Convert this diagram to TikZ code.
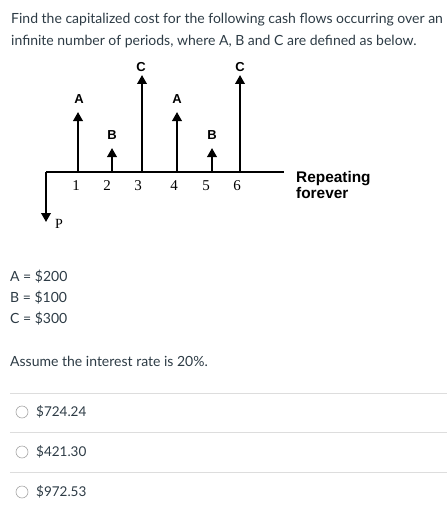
\documentclass[tikz,border=0pt]{standalone}
\usepackage{fontspec}
\usepackage{tikz}
\usetikzlibrary{arrows.meta}
\setmainfont{Lato}
\newfontfamily\arialfont{Liberation Sans}
\newfontfamily\timesfont{Liberation Serif}
\definecolor{textgray}{RGB}{45,59,69}
\definecolor{rulegray}{RGB}{221,221,221}

\tikzset{
  cashflow/.style={line width=2pt, -{Triangle[width=9.5pt,length=9pt]}},
  flowlabel/.style={font=\arialfont\bfseries\fontsize{13}{13}\selectfont, inner sep=0pt},
  periodnum/.style={font=\timesfont\fontsize{15}{15}\selectfont, inner sep=0pt},
  bodytext/.style={font=\fontsize{14}{14}\selectfont, text=textgray, anchor=west, inner sep=0pt},
  answer/.style={font=\fontsize{13.5}{13.5}\selectfont, text=textgray, anchor=west, inner sep=0pt},
  radio/.style={circle, draw=gray!70, line width=0.6pt, minimum size=12pt, inner sep=0pt},
}

\begin{document}
\begin{tikzpicture}[x=1pt,y=-1pt]
  \useasboundingbox (0,0) rectangle (447,508);

  % Question text
  \node[bodytext] (q1) at (11,20) {Find the capitalized cost for the following cash flows occurring over an};
  \node[bodytext] (q2) at (11,42) {infinite number of periods, where A, B and C are defined as below.};

  % Time axis
  \coordinate (t0) at (46,172);
  \coordinate (tend) at (284,172);
  \draw[line width=1.3pt] (t0) -- (tend);
  \coordinate (pend) at (46,222);
  \draw[cashflow] (t0) -- (pend);
  \node[periodnum, font=\timesfont\fontsize{14}{14}\selectfont] (p) at (59,224) {P};

  % Cash flow arrows
  \coordinate (t1) at (78,172);
  \coordinate (t2) at (112,172);
  \coordinate (t3) at (142,172);
  \coordinate (t4) at (177,172);
  \coordinate (t5) at (212,172);
  \coordinate (t6) at (240,172);
  \coordinate (f1) at (78,112);
  \coordinate (f2) at (112,148);
  \coordinate (f3) at (142,75);
  \coordinate (f4) at (177,112);
  \coordinate (f5) at (212,148);
  \coordinate (f6) at (240,75);
  \draw[cashflow] (t1) -- (f1);
  \draw[cashflow] (t2) -- (f2);
  \draw[cashflow] (t3) -- (f3);
  \draw[cashflow] (t4) -- (f4);
  \draw[cashflow] (t5) -- (f5);
  \draw[cashflow] (t6) -- (f6);

  % Flow labels
  \node[flowlabel] (l1) at (79,99) {A};
  \node[flowlabel] (l2) at (112,135) {B};
  \node[flowlabel] (l3) at (141,67) {C};
  \node[flowlabel] (l4) at (177,99) {A};
  \node[flowlabel] (l5) at (212,135) {B};
  \node[flowlabel] (l6) at (240,67) {C};

  % Period numbers
  \node[periodnum] (n1) at (76,186) {1};
  \node[periodnum] (n2) at (107,186) {2};
  \node[periodnum] (n3) at (138,186) {3};
  \node[periodnum] (n4) at (174,186) {4};
  \node[periodnum] (n5) at (206,186) {5};
  \node[periodnum] (n6) at (237,186) {6};

  % Repeating note
  \node[font=\arialfont\bfseries\fontsize{15.4}{16.5}\selectfont, anchor=west, inner sep=0pt, align=left] (rep) at (296,185) {Repeating\\forever};

  % Values
  \node[bodytext] (va) at (10,277) {A = \$200};
  \node[bodytext] (vb) at (10,298) {B = \$100};
  \node[bodytext] (vc) at (10,319) {C = \$300};
  \node[bodytext] (rate) at (10,361) {Assume the interest rate is 20\%.};

  % Answer choices
  \draw[rulegray, line width=0.8pt] (10,393) -- (447,393);
  \draw[rulegray, line width=0.8pt] (10,432) -- (447,432);
  \draw[rulegray, line width=0.8pt] (10,472) -- (447,472);
  \node[radio] (r1) at (22,412) {};
  \node[radio] (r2) at (22,452) {};
  \node[radio] (r3) at (22,492) {};
  \node[answer] (a1) at (36,412) {\$724.24};
  \node[answer] (a2) at (36,452) {\$421.30};
  \node[answer] (a3) at (36,492) {\$972.53};
\end{tikzpicture}
\end{document}
